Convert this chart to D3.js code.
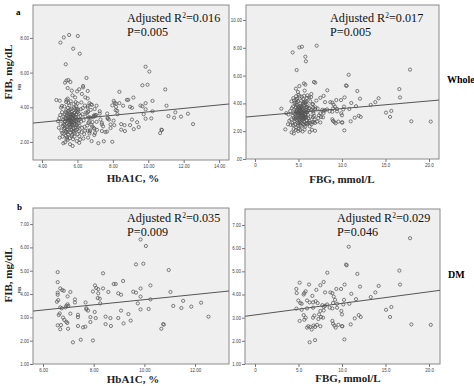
<!DOCTYPE html>
<html><head><meta charset="utf-8">
<script src="https://cdn.jsdelivr.net/npm/d3@7"></script>
<style>body{margin:0;background:#fff}svg{display:block}</style>
</head><body>
<svg id="c" width="474" height="386"></svg>
<script>
// ---------- DATA ----------
// DM patients: HbA1C (%) vs FIB (mg/dL)
const dmHba1c = [
[6.58,4.94],[6.58,4.51],[6.68,4.24],[6.76,4.17],[6.82,4.14],[6.58,4.06],[6.58,3.97],[7.08,4.09],[6.97,3.9],[6.6,3.74],
[6.55,3.67],[7.26,3.77],[7.26,3.64],[6.97,3.56],[6.92,3.5],[7.0,3.49],[6.89,3.43],[6.74,3.39],[6.68,3.43],[7.68,3.64],
[7.71,3.39],[7.08,3.16],[7.38,3.11],[7.38,3.01],[7.71,3.34],[7.78,3.29],[6.66,3.17],[6.62,3.1],[6.79,2.99],[6.84,2.89],
[6.92,2.81],[6.96,2.76],[6.71,2.67],[6.58,2.66],[6.68,2.49],[6.99,2.51],[7.38,2.63],[7.58,2.57],[7.67,2.6],[7.87,3.01],
[8.04,3.23],[8.08,2.97],[7.87,2.8],[7.18,1.93],[7.49,2.04],[7.97,2.01],[8.37,4.89],[8.05,4.37],[8.1,4.26],[8.18,4.21],
[7.97,4.11],[8.18,4.03],[8.37,4.24],[8.16,3.83],[8.24,3.8],[8.58,4.09],[8.79,4.43],[8.87,4.43],[9.16,4.56],[8.97,4.03],
[9.08,3.97],[8.26,3.6],[8.47,3.03],[8.66,2.97],[8.47,2.71],[8.68,2.63],[8.97,2.97],[9.08,3.29],[9.18,2.74],[9.37,3.14],
[9.85,6.34],[10.06,6.06],[9.67,5.27],[9.96,5.3],[10.96,5.03],[10.24,4.37],[9.85,4.24],[9.56,4.1],[9.67,4.06],[9.85,3.89],
[11.03,4.09],[10.24,3.77],[9.74,3.6],[9.46,2.86],[9.85,3.34],[10.17,3.36],[11.14,3.49],[11.46,3.4],[11.53,3.71],[11.85,3.46],
[12.24,3.63],[12.53,3.03],[10.74,2.71],[10.77,2.69],[10.67,2.51]
];
// DM patients: FBG (mmol/L) vs FIB (mg/dL)
const dmFbg = [
[8.31,4.94],[5.13,4.51],[4.75,4.24],[4.79,4.06],[6.21,4.43],[7.51,4.4],[7.89,4.54],[5.82,4.14],[5.67,4.06],[5.59,4.0],
[6.59,3.94],[7.05,4.2],[8.05,4.09],[8.66,4.09],[8.89,4.06],[9.35,4.24],[9.89,4.24],[4.98,3.74],[5.21,3.63],[5.36,3.6],
[5.98,3.74],[6.28,3.66],[6.67,3.66],[6.97,3.71],[7.2,3.63],[9.04,3.91],[9.2,3.77],[8.97,3.63],[9.43,3.6],[7.74,3.54],
[7.89,3.46],[8.05,3.51],[8.28,3.57],[4.75,3.39],[5.36,3.34],[5.98,3.4],[6.67,3.43],[7.51,3.29],[7.89,3.31],[7.36,3.14],
[7.59,3.03],[7.82,3.0],[7.28,2.94],[8.89,3.4],[9.43,3.43],[8.58,3.43],[5.59,3.11],[5.82,3.0],[5.67,2.91],[5.13,2.86],
[6.82,3.09],[6.67,3.0],[8.89,2.86],[8.97,2.74],[9.12,2.66],[9.27,2.57],[9.58,2.69],[10.04,2.63],[6.13,2.63],[5.98,2.57],
[6.36,2.6],[6.74,2.66],[6.51,2.49],[6.9,2.6],[7.13,2.69],[7.51,2.63],[6.28,1.94],[6.9,2.03],[10.27,2.06],
[10.77,6.06],[17.82,6.43],[10.46,5.29],[10.54,5.26],[16.59,5.03],[11.76,4.89],[10.3,4.43],[16.67,4.43],[12.07,4.34],[14.21,4.37],
[13.83,4.09],[11.07,4.03],[13.3,3.89],[10.23,3.77],[11.61,3.8],[10.15,3.57],[10.84,3.6],[15.06,3.34],[15.67,3.46],[15.52,3.03],
[9.92,3.29],[10.0,3.14],[11.92,3.11],[12.15,3.03],[11.46,2.97],[11.0,2.71],[10.0,2.63],[17.97,2.71],[20.2,2.69]
];
// Non-DM subjects (added to DM for the "Whole" panels): HbA1C vs FIB
const nonDmHba1c = [
[5.32,3.41],[5.48,3.12],[5.61,2.88],[5.74,3.55],[5.27,2.95],[5.83,3.26],[5.55,3.68],[5.41,2.71],[5.69,3.02],[5.92,3.44],
[5.18,3.27],[5.37,3.83],[5.58,2.54],[5.77,2.79],[5.96,3.11],[6.08,3.62],[5.22,2.48],[5.44,3.35],[5.66,3.91],[5.89,2.67],
[5.05,3.05],[5.29,3.58],[5.51,2.97],[5.72,3.38],[5.94,3.79],[6.12,2.92],[5.35,2.36],[5.63,3.21],[5.81,3.67],[6.01,2.45],
[5.13,3.72],[5.39,3.08],[5.57,3.47],[5.79,2.58],[5.98,3.29],[6.17,3.51],[5.24,2.77],[5.46,3.96],[5.68,2.69],[5.87,3.93],
[4.98,3.38],[5.31,3.19],[5.53,2.83],[5.71,3.14],[5.91,2.84],[6.21,3.18],[5.42,3.64],[5.64,3.43],[5.85,3.05],[6.04,3.86],
[5.19,2.91],[5.36,2.58],[5.59,3.86],[5.76,3.49],[5.97,2.73],[6.26,2.81],[5.09,2.66],[5.47,2.44],[5.62,3.58],[5.84,2.31],
[5.28,3.15],[5.52,3.25],[5.73,2.94],[5.93,3.58],[6.14,3.33],[5.34,3.73],[5.56,2.22],[5.78,3.17],[6.02,3.72],[5.21,3.48],
[5.43,2.87],[5.67,3.76],[5.88,3.36],[6.09,2.62],[5.38,2.18],[5.6,3.32],[5.82,2.49],[6.19,3.89],[5.26,4.05],[5.49,3.79],
[5.7,2.41],[5.95,2.98],[6.11,2.33],[5.16,2.31],[5.4,3.52],[5.65,3.1],[5.86,3.71],[6.06,3.09],[5.33,2.65],[5.54,4.12],
[5.8,3.98],[6.23,2.57],[5.12,4.08],[5.45,2.12],[5.75,2.16],[6.15,2.14],[5.3,1.98],[5.58,1.87],[5.73,1.77],[5.2,1.93],
[5.0,2.25],[4.95,2.82],[5.07,3.98],[5.5,4.25],[5.78,4.19],[6.0,4.22],[6.3,3.95],[6.35,3.25],[6.4,2.88],[6.28,3.6],
[6.45,3.45],[6.38,2.45],[6.22,4.28],[6.42,4.1],[5.62,4.35],[5.9,4.3],[5.36,4.31],[6.48,3.7],[6.33,2.2],[6.1,1.95],
[5.96,2.05],[6.43,2.65],[5.93,4.05],[5.66,2.33],[5.41,2.27],[5.14,2.52],[5.03,3.55],[4.9,3.2],[5.25,3.02],[5.52,3.59],
[5.84,3.5],[6.07,3.25],[5.47,3.27],[5.71,3.62],[5.98,3.92],[5.57,3.02],[5.35,3.33],[5.68,2.99],[5.92,3.2],[5.44,2.58],
[5.77,2.65],[6.03,2.85],[5.63,2.71],[5.29,2.82],[5.83,2.96],[5.5,3.43],[5.6,3.14],[5.74,3.31],[5.55,3.29],[5.66,3.49],
[6.55,2.95],[6.62,3.4],[6.7,2.6],[6.85,3.15],[6.95,2.4],[7.05,3.55],[6.6,2.25],[6.8,2.05],[7.1,2.7],[7.3,3.3],
[7.45,2.9],[6.75,3.85],
[5.53,8.17],[5.23,8.03],[6.02,8.11],[5.04,7.73],[5.76,7.38],[6.13,7.09],[5.34,6.48],[5.38,5.54],[5.49,5.57],[5.6,5.46],
[5.3,5.42],[6.51,5.69],[6.32,5.23],[6.32,5.15],[5.45,5.11],[5.68,4.96],[5.98,4.92],[6.1,5.04],[4.81,4.42],[5.0,4.38],
[5.45,4.5],[5.38,4.42],[5.72,4.69],[5.87,4.57],[6.25,4.77],[6.44,4.57]
];
// Non-DM subjects: FBG vs FIB
const nonDmFbg = [
[4.42,3.31],[4.68,3.05],[4.91,3.62],[5.12,2.84],[5.34,3.44],[5.56,3.12],[5.78,3.71],[4.55,2.72],[4.83,3.88],[5.05,3.27],
[5.27,2.61],[5.49,3.95],[5.71,2.96],[5.93,3.36],[4.37,3.78],[4.61,2.49],[4.86,3.18],[5.09,3.55],[5.31,2.35],[5.53,3.63],
[5.75,3.24],[5.97,2.78],[4.48,2.98],[4.74,3.49],[4.97,2.55],[5.19,3.82],[5.42,3.09],[5.64,2.68],[5.86,3.52],[6.08,3.18],
[4.31,2.58],[4.57,4.02],[4.79,2.83],[5.02,3.41],[5.24,3.99],[5.46,2.79],[5.68,3.47],[5.91,4.11],[6.14,2.91],[4.52,3.57],
[4.76,2.27],[4.99,2.94],[5.21,3.68],[5.44,3.29],[5.66,2.45],[5.89,2.99],[6.19,3.64],[4.45,2.16],[4.71,3.72],[4.94,4.17],
[5.16,2.71],[5.38,3.15],[5.61,3.86],[5.83,2.57],[6.05,3.86],[4.63,3.24],[4.88,2.62],[5.11,3.11],[5.33,4.21],[5.58,2.92],
[5.8,3.39],[6.02,2.52],[4.39,2.44],[4.66,3.91],[4.92,2.39],[5.14,3.39],[5.36,2.91],[5.59,3.33],[5.81,4.05],[6.24,2.76],
[4.5,4.21],[4.78,3.33],[5.03,2.17],[5.26,3.23],[5.51,2.53],[5.73,3.03],[5.95,3.73],[4.34,3.12],[4.59,2.87],[4.84,4.33],
[5.07,3.75],[5.29,2.99],[5.52,4.31],[5.76,2.33],[6.11,3.46],[4.46,1.84],[4.21,1.91],[4.69,2.08],[4.98,2.01],[5.22,2.09],
[5.47,1.98],[5.7,2.12],[6.3,2.35],[6.41,3.05],[6.5,3.55],[6.35,4.15],[6.6,2.65],[6.72,3.3],[6.85,2.85],[6.45,4.45],
[4.05,3.45],[4.15,2.85],[4.2,4.15],[4.1,2.45],[3.85,3.2],[3.95,2.75],[4.25,3.65],[6.55,2.1],[6.68,3.95],[6.9,3.6],
[4.73,4.52],[5.01,4.61],[5.38,4.48],[5.65,4.55],[5.98,4.38],[4.41,4.38],[4.95,3.31],[5.18,3.02],[5.4,3.58],[5.62,3.05],
[5.45,3.36],[5.2,3.47],[5.0,3.13],[4.8,3.55],[5.55,2.85],[5.35,3.75],[4.7,2.95],[5.1,2.6],[5.85,3.15],[5.25,2.45],
[3.03,3.62],[3.49,2.13],[3.6,3.3],[3.8,2.5],
[4.33,7.67],[5.1,8.03],[5.4,8.08],[7.09,8.15],[5.79,7.36],[5.86,7.03],[4.79,6.4],[5.63,5.44],[5.79,5.35],[5.1,5.25],
[6.78,5.54],[6.93,5.49],[4.71,5.06],[4.94,4.82],[5.71,4.92],[6.02,4.58],[6.48,4.68]
];
// Fitted regression lines (endpoints across each x-range)
const fitWholeHba1c = [[3.49,3.09],[14.56,4.19]];
const fitWholeFbg   = [[-1.03,3.02],[21.15,4.24]];
const fitDmHba1c    = [[5.6,3.27],[13.34,4.13]];
const fitDmFbg      = [[-1.15,3.06],[21.26,4.18]];
// Ticks
const ticksHba1cWhole = [4,6,8,10,12,14];
const labelsHba1cWhole = ["4.00","6.00","8.00","10.00","12.00","14.00"];
const ticksHba1cDm = [6,8,10,12];
const labelsHba1cDm = ["6.00","8.00","10.00","12.00"];
const ticksFbg = [0,5,10,15,20];
const labelsFbg = ["0","5.0","10.0","15.0","20.0"];
const ticksFibWholeL = [2,4,6,8];
const labelsFibWholeL = ["2.00","4.00","6.00","8.00"];
const ticksFibWholeR = [0,2,4,6,8,10];
const labelsFibWholeR = [".00","2.00","4.00","6.00","8.00","10.00"];
const ticksFibDm = [1,2,3,4,5,6,7];
const labelsFibDm = ["1.00","2.00","3.00","4.00","5.00","6.00","7.00"];
const statsText = [["0.016","0.005"],["0.017","0.005"],["0.035","0.009"],["0.029","0.046"]];

// ---------- LAYOUT ----------
const svg = d3.select("#c");
const panels = [
 {x0:33,x1:229,y0:5,y1:160,xd:[3.49,14.56],yd:[0.96,9.9],pts:nonDmHba1c.concat(dmHba1c),fit:fitWholeHba1c,
  xt:ticksHba1cWhole,xl:labelsHba1cWhole,yt:ticksFibWholeL,yl:labelsFibWholeL,st:statsText[0],tx:127,ty:22,
  xTitle:"HbA1C, %",xtX:133,xtY:182,yTitle:true,yTitleY:72},
 {x0:246,x1:439,y0:5,y1:159,xd:[-1.03,21.15],yd:[0,11.08],pts:nonDmFbg.concat(dmFbg),fit:fitWholeFbg,
  xt:ticksFbg,xl:labelsFbg,yt:ticksFibWholeR,yl:labelsFibWholeR,st:statsText[1],tx:330,ty:22,
  xTitle:"FBG, mmol/L",xtX:342,xtY:183,yTitle:false},
 {x0:33,x1:229,y0:208,y1:364,xd:[5.605,13.34],yd:[1,7.69],pts:dmHba1c,fit:fitDmHba1c,
  xt:ticksHba1cDm,xl:labelsHba1cDm,yt:ticksFibDm,yl:labelsFibDm,st:statsText[2],tx:127,ty:222,
  xTitle:"HbA1C, %",xtX:133,xtY:383,yTitle:true,yTitleY:275},
 {x0:245,x1:440,y0:209,y1:364,xd:[-1.15,21.26],yd:[1,7.69],pts:dmFbg,fit:fitDmFbg,
  xt:ticksFbg,xl:labelsFbg,yt:ticksFibDm,yl:labelsFibDm,st:statsText[3],tx:337,ty:222,
  xTitle:"FBG, mmol/L",xtX:348,xtY:382,yTitle:false}
];
const serif = "'Liberation Serif','Times New Roman',serif";

panels.forEach(p=>{
  const x = d3.scaleLinear().domain(p.xd).range([p.x0,p.x1]);
  const y = d3.scaleLinear().domain(p.yd).range([p.y1,p.y0]);
  const g = svg.append("g");
  g.append("rect").attr("x",p.x0).attr("y",p.y0).attr("width",p.x1-p.x0).attr("height",p.y1-p.y0)
    .attr("fill","#efefef").attr("stroke","#8a8a8a").attr("stroke-width",1);
  const clip = "clip"+p.x0+"_"+p.y0;
  g.append("clipPath").attr("id",clip).append("rect").attr("x",p.x0).attr("y",p.y0).attr("width",p.x1-p.x0).attr("height",p.y1-p.y0);
  // axes
  const ax = d3.axisBottom(x).tickValues(p.xt).tickFormat((d,i)=>p.xl[i]).tickSize(3).tickPadding(2);
  const ay = d3.axisLeft(y).tickValues(p.yt).tickFormat((d,i)=>p.yl[i]).tickSize(3).tickPadding(1);
  const gx = g.append("g").attr("transform",`translate(0,${p.y1})`).call(ax);
  const gy = g.append("g").attr("transform",`translate(${p.x0},0)`).call(ay);
  [gx,gy].forEach(a=>{
    a.select(".domain").remove();
    a.selectAll("line").attr("stroke","#777");
    a.selectAll("text").attr("font-family","Arial, 'Liberation Sans', sans-serif").attr("font-size","4.5px").attr("fill","#444");
  });
  // points
  g.append("g").attr("clip-path",`url(#${clip})`).selectAll("circle").data(p.pts).join("circle")
    .attr("cx",d=>x(d[0])).attr("cy",d=>y(d[1])).attr("r",1.6)
    .attr("fill","none").attr("stroke","#555").attr("stroke-width",0.75);
  // fit line
  g.append("path").datum(p.fit).attr("clip-path",`url(#${clip})`)
    .attr("d",d3.line().x(d=>x(d[0])).y(d=>y(d[1])))
    .attr("stroke","#555").attr("stroke-width",1).attr("fill","none");
  // stats
  const t = g.append("text").attr("x",p.tx).attr("y",p.ty).attr("font-family",serif).attr("font-size","12.2px").attr("fill","#111");
  t.append("tspan").text("Adjusted R");
  t.append("tspan").text("2").attr("font-size","7.5px").attr("dy","-4.5");
  t.append("tspan").text("=" + p.st[0]).attr("dy","4.5");
  g.append("text").attr("x",p.tx).attr("y",p.ty+14).attr("font-family",serif).attr("font-size","12.2px").attr("fill","#111")
    .text("P=" + p.st[1]);
  // axis title
  g.append("text").attr("x",p.xtX).attr("y",p.xtY).attr("text-anchor","middle").attr("font-family",serif)
    .attr("font-weight","bold").attr("font-size","11px").attr("fill","#222").text(p.xTitle);
  if(p.yTitle){
    g.append("text").attr("transform",`translate(12,${p.yTitleY}) rotate(-90)`).attr("text-anchor","middle")
      .attr("font-family",serif).attr("font-weight","bold").attr("font-size","11px").attr("fill","#222").text("FIB, mg/dL");
    g.append("text").attr("transform",`translate(21,${p.yTitleY+15}) rotate(-90)`).attr("text-anchor","middle")
      .attr("font-family","Arial, sans-serif").attr("font-weight","bold").attr("font-size","4px").attr("fill","#333").text("FIB");
  }
});
// panel letters & group labels
svg.append("text").attr("x",16).attr("y",15).attr("font-family",serif).attr("font-weight","bold").attr("font-size","9px").text("a");
svg.append("text").attr("x",17).attr("y",210).attr("font-family",serif).attr("font-weight","bold").attr("font-size","9px").text("b");
svg.append("text").attr("x",447).attr("y",83).attr("font-family",serif).attr("font-weight","bold").attr("font-size","10px").text("Whole");
svg.append("text").attr("x",448).attr("y",278).attr("font-family",serif).attr("font-weight","bold").attr("font-size","10px").text("DM");
</script>
</body></html>
